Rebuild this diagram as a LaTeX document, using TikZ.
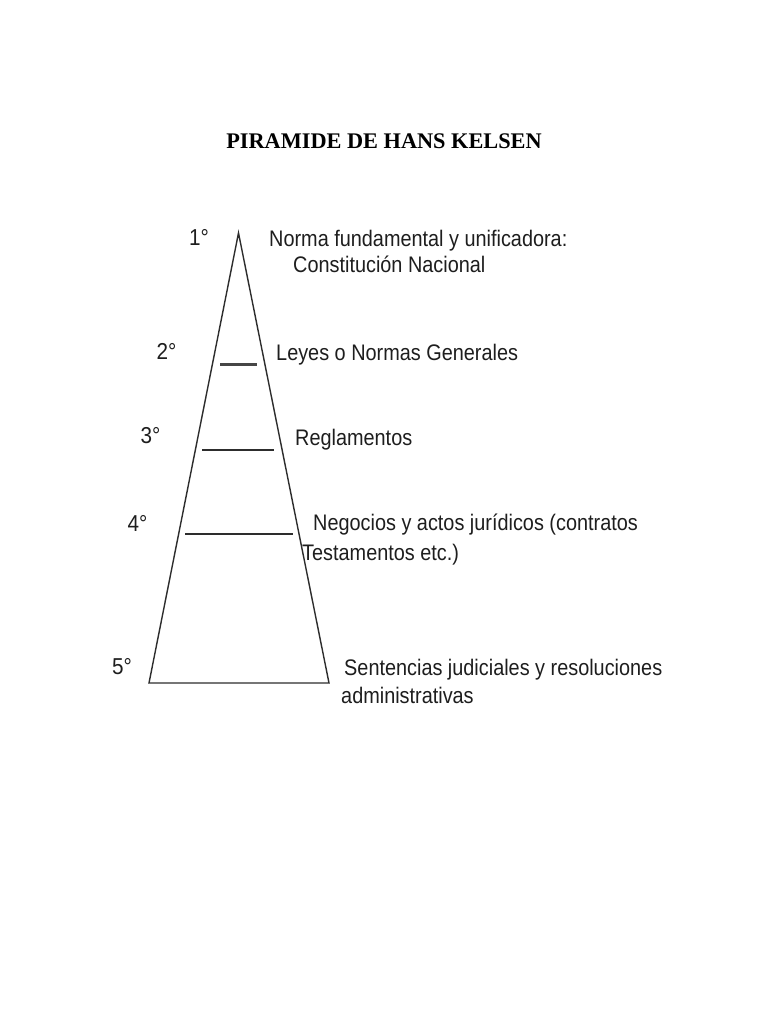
\documentclass[tikz,border=0pt]{standalone}
\usepackage{fontspec}
\newfontfamily\labfont[FakeStretch=0.883]{Liberation Sans}
\newfontfamily\numfont[FakeStretch=0.9]{Liberation Sans}
\newfontfamily\titlefont{Liberation Serif}
\definecolor{ink}{RGB}{30,30,30}
\definecolor{edgeink}{RGB}{45,45,45}
\definecolor{tierink}{RGB}{70,70,70}
\tikzset{
  lab/.style={font=\labfont\fontsize{22.5}{26}\selectfont, anchor=base west, inner sep=0pt, text=ink},
  num/.style={font=\numfont\fontsize{23}{27}\selectfont, anchor=center, inner sep=0pt, text=ink},
  ttl/.style={font=\titlefont\bfseries\fontsize{22.3}{27}\selectfont, anchor=base, inner sep=0pt, text=black},
  outline/.style={draw=edgeink, line width=1.4pt, line join=miter},
  tier/.style={draw=edgeink, line width=1.9pt},
  tierthick/.style={draw=tierink, line width=3pt}
}
\begin{document}
\begin{tikzpicture}[x=1pt,y=-1pt]
\useasboundingbox[fill=white] (0,0) rectangle (768,1024);
% title
\node[ttl] (title) at (384,149) {PIRAMIDE DE HANS KELSEN};
% pyramid
\coordinate (apex) at (238.5,233);
\coordinate (bl) at (149,683);
\coordinate (br) at (329,683);
\draw[outline] (apex) -- (br) -- (bl) -- cycle;
% tier lines
\coordinate (t2l) at (220,364); \coordinate (t2r) at (257,364);
\coordinate (t3l) at (202,450); \coordinate (t3r) at (274,450);
\coordinate (t4l) at (185,534); \coordinate (t4r) at (293,534);
\draw[tierthick] (t2l) -- (t2r);
\draw[tier] (t3l) -- (t3r);
\draw[tier] (t4l) -- (t4r);
% level numbers
\node[num] (n1) at (199,237.5) {1°};
\node[num] (n2) at (166.5,351) {2°};
\node[num] (n3) at (150.5,436) {3°};
\node[num] (n4) at (137.5,523.5) {4°};
\node[num] (n5) at (122,666.5) {5°};
% labels
\node[lab] (l1a) at (269,246) {Norma fundamental y unificadora:};
\node[lab] (l1b) at (293,272) {Constitución Nacional};
\node[lab] (l2) at (276,360) {Leyes o Normas Generales};
\node[lab] (l3) at (295,445) {Reglamentos};
\node[lab] (l4a) at (313,530) {Negocios y actos jurídicos (contratos};
\node[lab] (l4b) at (302,560) {Testamentos etc.)};
\node[lab] (l5a) at (344,675) {Sentencias judiciales y resoluciones};
\node[lab] (l5b) at (341,703) {administrativas};
\end{tikzpicture}
\end{document}
